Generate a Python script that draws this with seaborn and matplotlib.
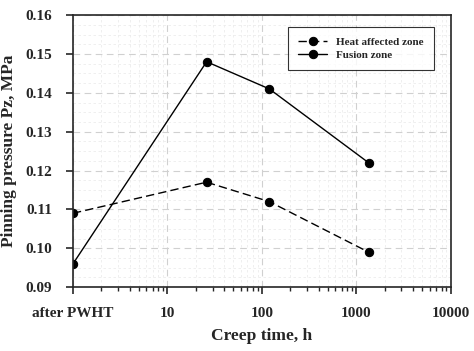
import numpy as np
import pandas as pd
import matplotlib
matplotlib.use("Agg")
import matplotlib.pyplot as plt
import seaborn as sns

# data (x=1 stands for "after PWHT")
creep_time = [1, 26, 120, 1350]
haz_pz = [0.109, 0.117, 0.112, 0.099]
fz_pz = [0.096, 0.148, 0.141, 0.122]
x_ticks = [1, 10, 100, 1000, 10000]
x_labels = ["after PWHT", "10", "100", "1000", "10000"]
y_ticks = [0.09, 0.10, 0.11, 0.12, 0.13, 0.14, 0.15, 0.16]

df = pd.DataFrame({
    "time": creep_time * 2,
    "pz": haz_pz + fz_pz,
    "zone": ["Heat affected zone"] * 4 + ["Fusion zone"] * 4,
})

sns.set_style("ticks")
plt.rcParams["font.family"] = ["Liberation Serif", "DejaVu Serif"]
plt.rcParams["font.weight"] = "bold"

fig = plt.figure(figsize=(4.74, 3.51), dpi=100)
ax = fig.add_axes([0.154, 0.182, 0.797, 0.775])

styles = {"Heat affected zone": (0, (6, 3)), "Fusion zone": "-"}
for zone, ls in styles.items():
    sub = df[df["zone"] == zone]
    sns.lineplot(data=sub, x="time", y="pz", ax=ax, color="black",
                 linestyle=ls, linewidth=1.0, marker="o", markersize=6,
                 markeredgecolor="black", label=zone)

ax.set_xscale("log")
ax.set_xlim(1, 10000)
ax.set_ylim(0.09, 0.16)
ax.set_xticks(x_ticks)
ax.set_xticklabels(x_labels)
ax.set_yticks(y_ticks)
ax.set_yticklabels([f"{v:.2f}" for v in y_ticks])
ax.yaxis.set_minor_locator(matplotlib.ticker.MultipleLocator(0.0025))

for lab in ax.get_xticklabels() + ax.get_yticklabels():
    lab.set_fontweight("bold")
    lab.set_fontsize(11)
ax.tick_params(axis="both", which="major", direction="out", length=5, width=1.2, pad=10)
ax.tick_params(axis="x", which="major", pad=9)
ax.tick_params(axis="x", which="minor", direction="out", length=3, width=1.0)
ax.tick_params(axis="y", which="minor", length=0)

ax.grid(True, which="major", linestyle=(0, (6, 4)), color="#d0d0d0", linewidth=0.8)
ax.grid(True, which="minor", linestyle=(0, (3, 3)), color="#ececec", linewidth=0.6)
ax.set_axisbelow(True)
for s in ax.spines.values():
    s.set_linewidth(1.2)

ax.set_xlabel("Creep time, h", fontsize=12.5, fontweight="bold", labelpad=6)
ax.set_ylabel("Pinning pressure Pz, MPa", fontsize=12.5, fontweight="bold", labelpad=6)

leg = ax.legend(loc="upper right", bbox_to_anchor=(0.955, 0.955), borderaxespad=0,
                frameon=True, fancybox=False, edgecolor="black",
                prop={"weight": "bold", "size": 8},
                handlelength=2.6, borderpad=0.9, labelspacing=0.3)
leg.get_frame().set_linewidth(0.8)

fig.savefig("out.png", dpi=100)
